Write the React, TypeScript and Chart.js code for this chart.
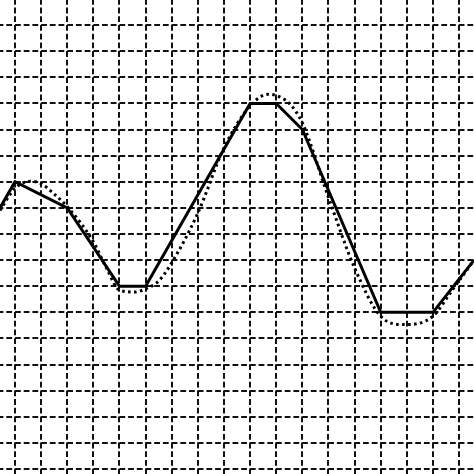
import React, { useEffect, useRef } from 'react';
import { Chart, registerables } from 'chart.js';

Chart.register(...registerables);

// grid runs in whole units, the visible window cuts it a little off-grid
const xMin = -0.574;
const xMax = 17.57;
const yMin = -0.19;
const yMax = 17.96;
const gridTicks = [0, 1, 2, 3, 4, 5, 6, 7, 8, 9, 10, 11, 12, 13, 14, 15, 16, 17];

// solid stepped trace
const solidX = [-0.574, 0, 2, 4, 5, 9, 10, 11, 14, 16, 17.57];
const solidY = [10.0, 11, 10, 7, 7, 14, 14, 13, 6, 6, 8.0];

// dotted smooth trace
const dottedX = [-0.574, 0, 0.6, 1, 1.5, 2, 3, 3.5, 4, 4.6, 5, 5.5, 6, 7, 8, 9, 9.7, 10, 10.5, 11, 12, 13, 14, 14.9, 16, 16.7, 17.57];
const dottedY = [9.9, 10.75, 11.02, 10.93, 10.53, 10.05, 8.7, 7.7, 6.85, 6.78, 6.9, 7.2, 7.9, 9.8, 12.3, 13.9, 14.35, 14.3, 14.0, 13.25, 10.4, 7.7, 5.85, 5.53, 5.85, 6.8, 8.0];

const App = () => {
  const canvasRef = useRef<HTMLCanvasElement | null>(null);

  useEffect(() => {
    if (!canvasRef.current) return;

    const setTicks = (scale: any) => {
      scale.ticks = gridTicks.map((v) => ({ value: v }));
    };

    const chart = new Chart(canvasRef.current, {
      type: 'line',
      data: {
        datasets: [
          {
            data: solidX.map((x, i) => ({ x, y: solidY[i] })),
            borderColor: '#000',
            borderWidth: 3,
            pointRadius: 0,
            tension: 0,
          },
          {
            data: dottedX.map((x, i) => ({ x, y: dottedY[i] })),
            borderColor: '#000',
            borderWidth: 3,
            borderDash: [2.6, 3.4],
            pointRadius: 0,
            cubicInterpolationMode: 'monotone',
          },
        ],
      },
      options: {
        animation: false,
        responsive: true,
        maintainAspectRatio: false,
        layout: { padding: 0 },
        plugins: { legend: { display: false }, tooltip: { enabled: false } },
        scales: {
          x: {
            type: 'linear',
            min: xMin,
            max: xMax,
            afterBuildTicks: setTicks,
            ticks: { display: false },
            grid: { color: '#111', lineWidth: 2, drawTicks: false },
            border: { display: false, dash: [5.8, 2.9], dashOffset: 1.1 },
          },
          y: {
            type: 'linear',
            min: yMin,
            max: yMax,
            afterBuildTicks: setTicks,
            ticks: { display: false },
            grid: { color: '#111', lineWidth: 2, drawTicks: false },
            border: { display: false, dash: [5.8, 2.9], dashOffset: 2.4 },
          },
        },
      },
    });

    return () => {
      chart.destroy();
    };
  }, []);

  return (
    <div style={{ position: 'fixed', left: 0, top: 0, width: 474, height: 474, background: '#fff' }}>
      <canvas ref={canvasRef}></canvas>
    </div>
  );
};

export default App;
